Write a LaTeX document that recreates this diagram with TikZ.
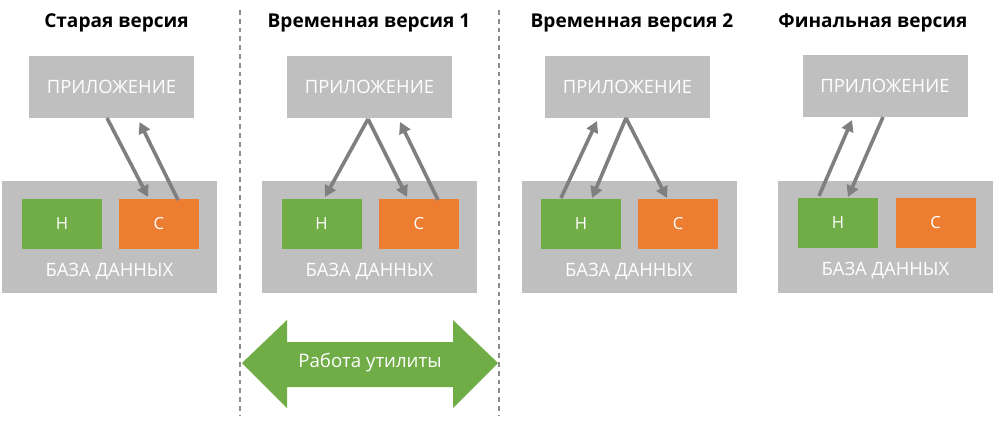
\documentclass[tikz,border=0pt]{standalone}
\usepackage{fontspec}
\setmainfont{Open Sans}
\usetikzlibrary{arrows.meta,calc}
\definecolor{boxgray}{HTML}{BFBFBF}
\definecolor{hgreen}{HTML}{70AD47}
\definecolor{corange}{HTML}{ED7D31}
\definecolor{arrgray}{HTML}{7F7F7F}
\definecolor{dashgray}{HTML}{8C8C8C}
\begin{document}
\begin{tikzpicture}[x=0.75pt,y=-0.75pt,
  gbox/.style={fill=boxgray,draw=none,inner sep=0pt,outer sep=0pt,text=white,font=\fontsize{13.8}{16}\selectfont},
  appbox/.style={gbox,minimum width=123.75pt,minimum height=46.5pt},
  dbbox/.style={gbox,minimum width=161.25pt,minimum height=84pt},
  hbox/.style={fill=hgreen,inner sep=0pt,outer sep=0pt,minimum width=60pt,minimum height=37.5pt,text=white,font=\fontsize{12.5}{15}\selectfont},
  cbox/.style={hbox,fill=corange},
  dblabel/.style={text=white,font=\fontsize{13.8}{16}\selectfont,inner sep=0pt},
  title/.style={font=\bfseries\fontsize{14.3}{17}\selectfont,text=black,inner sep=0pt},
  conn/.style={draw=arrgray,line width=2.7pt,-{Triangle[length=8.5pt,width=9pt]}},
  sep/.style={draw=dashgray,line width=1.1pt,dash pattern=on 3.6pt off 3pt}]
\useasboundingbox (0,0) rectangle (1000,443);
% separators
\coordinate (s1a) at (240,10); \coordinate (s1b) at (240,415);
\coordinate (s2a) at (499,10); \coordinate (s2b) at (499,415);
\draw[sep] (s1a) -- (s1b);
\draw[sep] (s2a) -- (s2b);
% titles
\node[title] (t1) at (116.5,23) {Старая версия};
\node[title] (t2) at (369,23) {Временная версия 1};
\node[title] (t3) at (632,23) {Временная версия 2};
\node[title] (t4) at (873,23) {Финальная версия};
% panel 1
\node[appbox] (app1) at (111.5,87) {ПРИЛОЖЕНИЕ};
\node[dbbox] (db1) at (109.5,237) {};
\node[hbox] (h1) at (62,224) {Н};
\node[cbox] (c1) at (159,224) {С};
\node[dblabel] (l1) at (109.5,272) {БАЗА ДАННЫХ};
\draw[conn] ($(app1.south)+(-4.5,0)$) -- ($(c1.north)+(-11,-2)$);
\draw[conn] ($(c1.north)+(19,1)$) -- ($(app1.south)+(28,4)$);
% panel 2
\node[appbox] (app2) at (369.5,87) {ПРИЛОЖЕНИЕ};
\node[dbbox] (db2) at (369.5,237) {};
\node[hbox] (h2) at (321.5,224) {Н};
\node[cbox] (c2) at (419,224) {С};
\node[dblabel] (l2) at (369.5,272) {БАЗА ДАННЫХ};
\draw[conn] ($(app2.south)+(-1.5,1)$) -- ($(h2.north)+(3.5,-2)$);
\draw[conn] ($(app2.south)+(-1.5,1)$) -- ($(c2.north)+(-12,-2)$);
\draw[conn] ($(c2.north)+(19,1)$) -- ($(app2.south)+(30.5,4)$);
% panel 3
\node[appbox] (app3) at (627.5,87) {ПРИЛОЖЕНИЕ};
\node[dbbox] (db3) at (629,237) {};
\node[hbox] (h3) at (581,224) {Н};
\node[cbox] (c3) at (678,224) {С};
\node[dblabel] (l3) at (629,272) {БАЗА ДАННЫХ};
\draw[conn] ($(h3.north)+(-20,-1)$) -- ($(app3.south)+(-30.5,3)$);
\draw[conn] ($(app3.south)+(-1.5,0)$) -- ($(h3.north)+(11,-1)$);
\draw[conn] ($(app3.south)+(-1.5,0)$) -- ($(c3.north)+(-11,-1)$);
% panel 4
\node[appbox] (app4) at (885,86) {ПРИЛОЖЕНИЕ};
\node[dbbox] (db4) at (885.5,236.5) {};
\node[hbox] (h4) at (838,223) {Н};
\node[cbox] (c4) at (935.5,223) {С};
\node[dblabel] (l4) at (885.5,271) {БАЗА ДАННЫХ};
\draw[conn] ($(h4.north)+(-19,-2)$) -- ($(app4.south)+(-33,3)$);
\draw[conn] ($(app4.south)+(-2,0)$) -- ($(h4.north)+(10,-1)$);
% big double arrow
\fill[hgreen] (242,363) -- (287,320) -- (287,342) -- (453,342) -- (453,320) -- (498,363)
  -- (453,408) -- (453,387) -- (287,387) -- (287,408) -- cycle;
\node[text=white,font=\fontsize{14}{17}\selectfont,inner sep=0pt] (util) at (370,363) {Работа утилиты};
\end{tikzpicture}
\end{document}
